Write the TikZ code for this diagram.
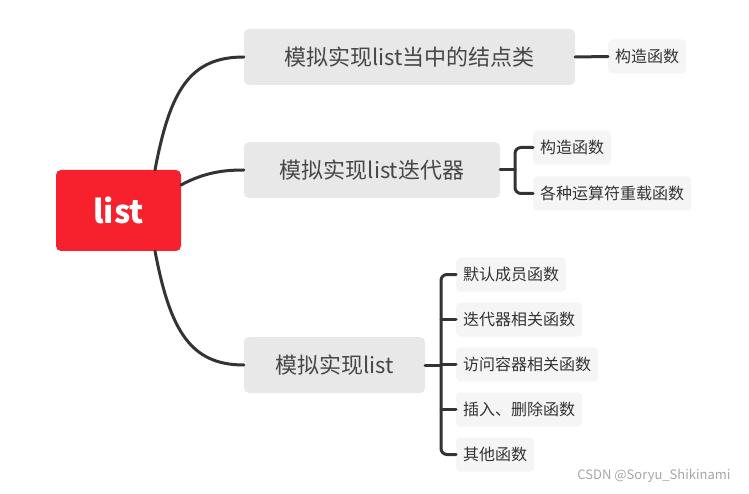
\documentclass[tikz,border=0pt]{standalone}
\usepackage{fontspec}
\setmainfont{Noto Sans CJK SC}
\definecolor{rootred}{HTML}{F7202D}
\definecolor{boxgray}{HTML}{E8E8E8}
\definecolor{leafgray}{HTML}{F5F5F5}
\definecolor{linec}{HTML}{333333}
\begin{document}
\begin{tikzpicture}[x=1pt,y=-1pt,
  root/.style={fill=rootred,rounded corners=5pt,text=white,font=\fontsize{32}{36}\selectfont\bfseries,minimum width=125pt,minimum height=81pt},
  branch/.style={fill=boxgray,rounded corners=5pt,text=linec!90,font=\fontsize{22}{26}\selectfont,minimum height=56pt,inner xsep=22pt},
  leaf/.style={fill=leafgray,rounded corners=4pt,text=linec,font=\fontsize{16}{19}\selectfont,minimum height=34pt,inner xsep=7pt,anchor=west},
  conn/.style={draw=linec,line width=3pt,line cap=round}]
\useasboundingbox (0,0) rectangle (749,494);
\node[root] (r) at (118.5,210.5) {list};
\node[branch,minimum width=331pt] (b1) at (409.5,57) {模拟实现list当中的结点类};
\node[branch,minimum width=256pt] (b2) at (372,170) {模拟实现list迭代器};
\node[branch,minimum width=181pt] (b3) at (334.5,365) {模拟实现list};
\node[leaf] (l1) at (608,56.5) {构造函数};
\node[leaf] (l2) at (533,147.5) {构造函数};
\node[leaf] (l3) at (533,193.5) {各种运算符重载函数};
\node[leaf] (m1) at (456,274.5) {默认成员函数};
\node[leaf] (m2) at (456,319.5) {迭代器相关函数};
\node[leaf] (m3) at (456,364.5) {访问容器相关函数};
\node[leaf] (m4) at (456,409.5) {插入、删除函数};
\node[leaf] (m5) at (456,454.5) {其他函数};
\coordinate (r1) at (155,170);
\coordinate (r2) at (181,185);
\coordinate (r3) at (155,251);
\draw[conn] (r1) .. controls (170,90) and (190,57) .. (b1.west);
\draw[conn] (r2) .. controls (205,172) and (225,170) .. (b2.west);
\draw[conn] (r3) .. controls (170,330) and (190,365) .. (b3.west);
\draw[conn] (b1.east) -- (l1.west);
\draw[conn] (b2.east) -- (515,170);
\draw[conn,rounded corners=6pt] (l2.west) -- (515,147.5) -- (515,193.5) -- (l3.west);
\draw[conn] (b3.east) -- (441,365);
\draw[conn,rounded corners=6pt] (m1.west) -- (441,274.5) -- (441,454.5) -- (m5.west);
\foreach \m in {m2,m3,m4} \draw[conn] (441,0 |- \m.west) -- (\m.west);
\node[text=gray!70,font=\fontsize{13}{15}\selectfont] (wm) at (654,476) {CSDN @Soryu\_Shikinami};
\end{tikzpicture}
\end{document}
